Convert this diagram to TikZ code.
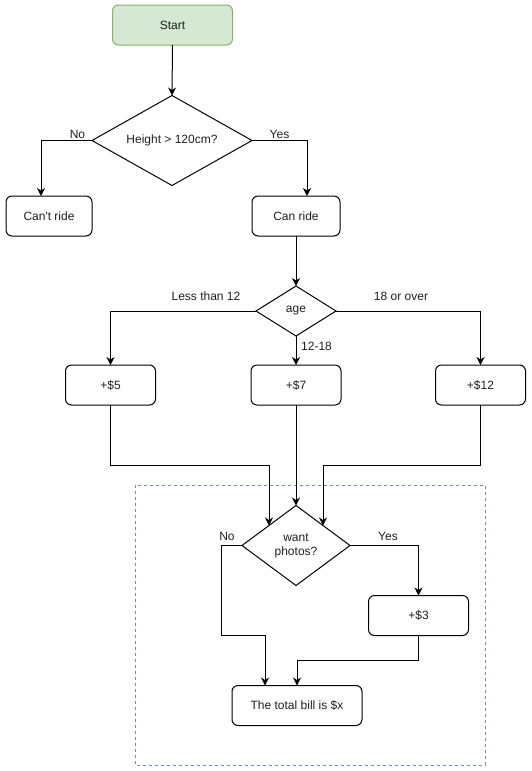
\documentclass[tikz,border=0pt]{standalone}
\usepackage{fontspec}
\setmainfont{Liberation Sans}[Ligatures=TeXOff]
\usetikzlibrary{shapes.geometric,arrows.meta,calc}
\definecolor{txt}{HTML}{1F1F1F}
\definecolor{startfill}{HTML}{D5E8D4}
\definecolor{startline}{HTML}{82B366}
\definecolor{groupline}{HTML}{6C8EBF}
\begin{document}
\begin{tikzpicture}[x=1pt,y=-1pt,
  font=\fontsize{12}{14}\selectfont,
  every node/.style={text=txt},
  box/.style={draw=black, rounded corners=6pt, minimum width=#1, minimum height=40pt,
    inner sep=0pt, outer sep=0pt, line width=1pt},
  box/.default=90pt,
  decision/.style={draw=black, diamond, inner sep=0pt, outer sep=0pt, line width=1pt,
    align=center},
  arr/.style={draw=black, line width=1pt, -{Stealth[length=8pt,width=8pt,inset=2.5pt]}},
  lbl/.style={inner sep=0pt}
]
\useasboundingbox (0,0) rectangle (531,771);

% group frame
\draw[groupline, line width=0.8pt, dash pattern=on 3pt off 3pt] (135,485) rectangle (485,765);

% nodes
\node[box=120pt, fill=startfill, draw=startline] (start) at (172.5,25) {Start};
\node[decision, aspect=1.78, minimum width=160pt, minimum height=90pt] (height) at (172,140.5) {Height > 120cm?};
\node[box=86pt] (cant) at (49,216) {Can't ride};
\node[box=88pt] (can) at (296,216) {Can ride};
\node[decision, aspect=1.6, minimum width=80pt, minimum height=50pt] (age) at (296,311) {age};
\node[box] (p5) at (110.5,385) {+\$5};
\node[box] (p7) at (296,385) {+\$7};
\node[box] (p12) at (480.5,385) {+\$12};
\node[decision, aspect=1.35, minimum width=108pt, minimum height=80pt] (photos) at (296,545.5) {want\\photos?};
\node[box=100pt] (p3) at (418.5,615.5) {+\$3};
\node[box=130pt] (total) at (297,705.5) {The total bill is \$x};

% helper coordinates
\coordinate (row) at (0,465);
\coordinate (nob) at (221,635);
\coordinate (yb) at (0,660);
\coordinate (pw) at ($(photos.north)!.5!(photos.west)$);
\coordinate (pe) at ($(photos.north)!.5!(photos.east)$);

% connectors
\draw[arr] (start.south) -- (height.north);
\draw[arr] (height.west) -| ([xshift=-8pt]cant.north);
\draw[arr] (height.east) -| ([xshift=11pt]can.north);
\draw[arr] (can.south) -- (age.north);
\draw[arr] (age.west) -| (p5.north);
\draw[arr] (age.east) -| (p12.north);
\draw[arr] (age.south) -- (p7.north);
\draw[arr] (p5.south) -- (p5.south |- row) -| (pw);
\draw[arr] (p7.south) -- (photos.north);
\draw[arr] (p12.south) -- (p12.south |- row) -| (pe);
\draw[arr] (photos.west) -| (nob) -| ([xshift=-32pt]total.north);
\draw[arr] (photos.east) -| (p3.north);
\draw[arr] (p3.south) -- (p3.south |- yb) -| (total.north);

% labels
\node[lbl] (lno1) at (77.5,134) {No};
\node[lbl] (lyes1) at (279.5,134) {Yes};
\node[lbl] (lless) at (206,296) {Less than 12};
\node[lbl] (lover) at (401,296) {18 or over};
\node[lbl, anchor=west] (lmid) at (301,346) {12-18};
\node[lbl] (lno2) at (227,536) {No};
\node[lbl] (lyes2) at (388,536) {Yes};
\end{tikzpicture}
\end{document}
